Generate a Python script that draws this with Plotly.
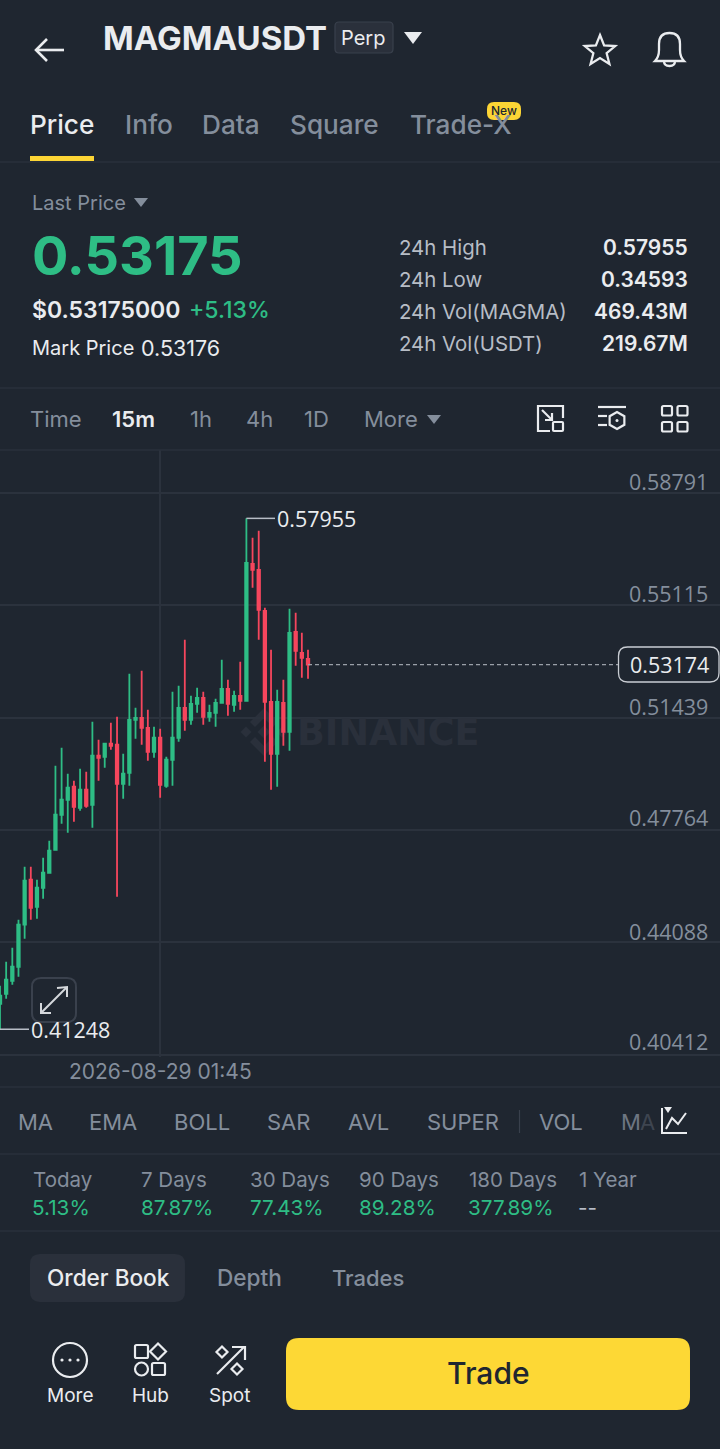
import math
import plotly.graph_objects as go

W, H = 720, 1449
BG = "#1F2630"
GREEN = "#2EBD85"
RED = "#F6465D"
YELLOW = "#FCD535"
GRAY = "#848E9C"
LIGHT = "#EAECEF"
DIV = "#2A303B"
GRID = "#2B323D"

# ---------------- data ----------------
candle_index = list(range(51))
opens = [0.42082,0.42409,0.42834,0.43292,0.44666,0.46137,0.45254,0.45875,0.46366,0.47118,
         0.48262,0.48753,0.49178,0.48491,0.49080,0.48589,0.50192,0.50159,0.50584,0.50552,
         0.49276,0.49636,0.51368,0.51433,0.51106,0.50323,0.50781,0.49210,0.50061,0.50781,
         0.51760,0.51368,0.51891,0.52087,0.51466,0.51597,0.51924,0.52382,0.51858,0.52153,
         0.51989,0.56469,0.56273,0.54932,0.51956,0.50257,0.51924,0.50975,0.54245,0.53559,0.53362]
highs = [0.42670,0.43455,0.43913,0.44829,0.46562,0.46562,0.46137,0.46856,0.47412,0.49865,
         0.50453,0.49603,0.49374,0.49766,0.49668,0.51302,0.50715,0.50617,0.51269,0.51466,
         0.50257,0.52872,0.51760,0.52970,0.51695,0.51139,0.51074,0.50159,0.52283,0.52480,
         0.53984,0.52153,0.52414,0.52283,0.51858,0.52054,0.53330,0.52676,0.52316,0.53264,
         0.57955,0.57319,0.57548,0.55030,0.53657,0.52349,0.52676,0.54997,0.54867,0.54213,0.53657]
lows = [0.41248,0.42245,0.42703,0.42965,0.44207,0.44829,0.44862,0.45515,0.46366,0.47118,
        0.47968,0.47674,0.48033,0.48393,0.48491,0.47837,0.49374,0.49799,0.50388,0.45581,
        0.48785,0.49210,0.50748,0.50552,0.50028,0.50126,0.48818,0.49145,0.49210,0.50650,
        0.51008,0.51204,0.51597,0.51204,0.51302,0.51139,0.51891,0.51499,0.51630,0.51695,
        0.51956,0.55684,0.53984,0.49995,0.49080,0.49178,0.50519,0.50355,0.53134,0.52742,0.52709]
closes = [0.42344,0.42867,0.43292,0.44666,0.46104,0.45221,0.45875,0.46366,0.47085,0.48262,
          0.48753,0.49145,0.48524,0.49080,0.48557,0.50192,0.50126,0.50584,0.50519,0.49276,
          0.49603,0.51368,0.51433,0.51106,0.50323,0.50781,0.49243,0.50061,0.50781,0.51760,
          0.51368,0.51891,0.52087,0.51466,0.51597,0.51924,0.52382,0.51891,0.52153,0.51989,
          0.56502,0.56273,0.54965,0.51956,0.50257,0.51956,0.50975,0.54213,0.53624,0.53395,0.53174]

price_ticks = [0.58791, 0.55115, 0.51439, 0.47764, 0.44088, 0.40412]
price_tick_labels = ["0.58791", "0.55115", "0.51439", "0.47764", "0.44088", "0.40412"]
high_value, high_label, high_index = 0.57955, "0.57955", 40
low_value, low_label, low_index = 0.41248, "0.41248", 0
last_value, last_label = 0.53174, "0.53174"
cursor_index = 26
cursor_label = "2026-08-29 01:45"

symbol = "MAGMAUSDT"
tabs = ["Price", "Info", "Data", "Square", "Trade-X"]
stat_names = ["24h High", "24h Low", "24h Vol(MAGMA)", "24h Vol(USDT)"]
stat_values = ["0.57955", "0.34593", "469.43M", "219.67M"]
intervals = ["Time", "15m", "1h", "4h", "1D", "More"]
indicators = ["MA", "EMA", "BOLL", "SAR", "AVL", "SUPER", "VOL"]
periods = ["Today", "7 Days", "30 Days", "90 Days", "180 Days", "1 Year"]
period_changes = ["5.13%", "87.87%", "77.43%", "89.28%", "377.89%", "--"]
book_tabs = ["Order Book", "Depth", "Trades"]
bottom_items = ["More", "Hub", "Spot"]

# ---------------- page geometry helpers ----------------
FONT = "Inter"
NUM_FONT = "Open Sans"
annots, shapes = [], []
def X(x): return x / W
def Y(y): return 1 - y / H

def T(text, x, y, size, color=LIGHT, anchor="left", weight=400, family=FONT):
    annots.append(dict(text=text, x=X(x), y=Y(y), xref="paper", yref="paper", showarrow=False,
                       xanchor=anchor, yanchor="middle", borderpad=0, borderwidth=0,
                       font=dict(family=family, size=size, color=color, weight=weight)))

def path(cmds, line=LIGHT, width=2.2, fill=None, layer="above"):
    parts = []
    for c in cmds:
        if isinstance(c, str):
            parts.append(c)
        else:
            op, *pts = c
            parts.append(op + " " + " ".join(f"{X(pts[i]):.5f},{Y(pts[i+1]):.5f}" for i in range(0, len(pts), 2)))
    s = dict(type="path", path=" ".join(parts), xref="paper", yref="paper", layer=layer,
             line=dict(color=line, width=width))
    if fill: s["fillcolor"] = fill
    if width == 0: s["line"] = dict(width=0)
    shapes.append(s)

def poly(pts, close=False, **kw):
    cmds = [("M", *pts[0])] + [("L", *p) for p in pts[1:]]
    if close: cmds.append("Z")
    path(cmds, **kw)

def rrect(x0, y0, x1, y1, r, **kw):
    path([("M", x0 + r, y0), ("L", x1 - r, y0), ("Q", x1, y0, x1, y0 + r), ("L", x1, y1 - r),
          ("Q", x1, y1, x1 - r, y1), ("L", x0 + r, y1), ("Q", x0, y1, x0, y1 - r),
          ("L", x0, y0 + r), ("Q", x0, y0, x0 + r, y0), "Z"], **kw)

def circ(cx, cy, r, line=LIGHT, width=2.2, fill=None):
    s = dict(type="circle", xref="paper", yref="paper", x0=X(cx - r), x1=X(cx + r), y0=Y(cy - r), y1=Y(cy + r),
             line=dict(color=line, width=width), layer="above")
    if fill: s["fillcolor"] = fill
    if width == 0: s["line"] = dict(width=0)
    shapes.append(s)

def hline(y, x0=0, x1=W, color=DIV, width=1.5):
    poly([(x0, y), (x1, y)], line=color, width=width)

def tri(x0, x1, y0, y1, color=GRAY):
    poly([(x0, y0), (x1, y0), ((x0 + x1) / 2, y1)], close=True, line=color, width=0, fill=color)

def diamond(cx, cy, r, **kw):
    poly([(cx, cy - r), (cx + r, cy), (cx, cy + r), (cx - r, cy)], close=True, **kw)

# ---------------- chart ----------------
PLOT_TOP, PLOT_BOTTOM = 450, 1057
GRID_TOP_PX, GRID_BOTTOM_PX = 492.8, 1054.8
PX_PER_UNIT = (GRID_BOTTOM_PX - GRID_TOP_PX) / (price_ticks[0] - price_ticks[-1])
y_top = price_ticks[0] + (GRID_TOP_PX - PLOT_TOP) / PX_PER_UNIT
y_bottom = price_ticks[0] - (PLOT_BOTTOM - GRID_TOP_PX) / PX_PER_UNIT
BAR_STEP = 6.16

fig = go.Figure(go.Candlestick(
    x=candle_index, open=opens, high=highs, low=lows, close=closes,
    whiskerwidth=0, hoverinfo="skip",
    increasing=dict(line=dict(color=GREEN, width=1.8), fillcolor=GREEN),
    decreasing=dict(line=dict(color=RED, width=1.8), fillcolor=RED),
))

for v, lab, dy in zip(price_ticks, price_tick_labels, [11, 12, 11, 12, 11, 13]):
    annots.append(dict(text=lab, x=X(709), xref="paper", y=v, yref="y", yshift=dy, showarrow=False,
                       xanchor="right", yanchor="middle", borderpad=0,
                       font=dict(family=NUM_FONT, size=21.5, color=GRAY)))

# high, low markers
for idx, val, lab, x1 in [(high_index, high_value, high_label, 275), (low_index, low_value, low_label, 29)]:
    shapes.append(dict(type="line", xref="x", yref="y", x0=idx, x1=x1 / BAR_STEP, y0=val, y1=val,
                       line=dict(color="#B7BDC6", width=1.5), layer="above"))
    annots.append(dict(text=lab, x=X(x1 + 1), xref="paper", y=val, yref="y", showarrow=False,
                       xanchor="left", yanchor="middle", borderpad=0,
                       font=dict(family=NUM_FONT, size=21.5, color=LIGHT)))

# last-price dashed line
shapes.append(dict(type="line", xref="x", yref="y", x0=50, x1=618 / BAR_STEP, y0=last_value, y1=last_value,
                   line=dict(color="#9AA0A8", width=1.3, dash="4px,3px"), layer="above"))
rrect(618.5, 647, 719, 682, 9, line="#C9CDD3", width=1.3, fill=BG)
annots.append(dict(text=last_label, x=X(669), xref="paper", y=last_value, yref="y", showarrow=False,
                   xanchor="center", yanchor="middle", borderpad=0,
                   font=dict(family=NUM_FONT, size=21.5, color=LIGHT)))

# watermark
WM = "#2A303B"
T("BINANCE", 297, 732, 36.5, WM, weight=700, family="DejaVu Sans")
W_KW = dict(line=WM, width=0, fill=WM, layer="below")
diamond(246, 732, 5.5, **W_KW)
diamond(282, 732, 5.5, **W_KW)
diamond(264, 732, 6.5, **W_KW)
poly([(264, 708), (278, 722), (273, 727), (264, 718), (255, 727), (250, 722)], close=True, **W_KW)
poly([(264, 756), (278, 742), (273, 737), (264, 746), (255, 737), (250, 742)], close=True, **W_KW)

# expand button
rrect(32, 978, 76, 1022, 9, line="#3A414D", width=2)
poly([(42, 1012), (66, 988)], line="#D5D8DC", width=2)
poly([(57, 988), (67, 987), (67, 997)], line="#D5D8DC", width=2)
poly([(41, 1003), (41, 1013), (51, 1013)], line="#D5D8DC", width=2)

T(cursor_label, 69, 1071, 21, GRAY)

# ---------------- header ----------------
poly([(36, 50), (64, 50)], line=LIGHT, width=2.6)
poly([(47, 39), (36, 50), (47, 61)], line=LIGHT, width=2.6)
T(symbol, 103, 38, 33, LIGHT, weight=700)
rrect(335, 22, 393, 53, 4, line="#39404C", width=1.2, fill="#2A303B")
T("Perp", 341, 38, 20, LIGHT)
tri(404, 422, 32, 44, LIGHT)

star = []
for k in range(10):
    r = 16 if k % 2 == 0 else 7
    a = -math.pi / 2 + k * math.pi / 5
    star.append((600 + r * math.cos(a), 51 + r * math.sin(a)))
poly(star, close=True, line=LIGHT, width=2.3)

path([("M", 655, 61), ("Q", 659, 57, 659, 50), ("L", 659, 44), ("Q", 659, 33, 669.5, 33), ("Q", 680, 33, 680, 44),
      ("L", 680, 50), ("Q", 680, 57, 684, 61), "Z"], line=LIGHT, width=2.3)
path([("M", 664, 61), ("Q", 664, 66, 669.5, 66), ("Q", 675, 66, 675, 61)], line=LIGHT, width=2.3)

# tabs
for lab, x, col, w in zip(tabs, [30, 125, 202, 290, 410], [LIGHT, GRAY, GRAY, GRAY, GRAY], [500, 500, 500, 500, 500]):
    T(lab, x, 124.5, 26.2, col, weight=w)
poly([(30, 158.5), (94, 158.5)], line=YELLOW, width=5)
hline(162)
rrect(487, 102, 521, 120, 7, line=YELLOW, width=0, fill=YELLOW)
T("New", 504, 111, 12, "#202630", anchor="center", weight=500)

# price block
T("Last Price", 32, 203, 20, GRAY)
tri(134, 148, 198, 207)
T("0.53175", 32, 255, 54, GREEN, weight=700)
T("$0.53175000", 32, 310, 23, LIGHT, weight=600)
T("+5.13%", 188.5, 310, 23, GREEN, weight=500)
T("Mark Price", 32, 348, 20, LIGHT)
T("0.53176", 141, 348, 21.5, LIGHT)
for n, v, y in zip(stat_names, stat_values, [247.5, 279.5, 311.5, 343.5]):
    T(n, 399, y, 20.4, "#B7BDC6")
    T(v, 688, y, 21, LIGHT, anchor="right", weight=600)
hline(388)

# interval row
for lab, x, col, w in zip(intervals, [30, 112, 190, 246, 304, 364],
                          [GRAY, LIGHT, GRAY, GRAY, GRAY, GRAY], [400, 600, 400, 400, 400, 400]):
    T(lab, x, 419, 22, col, weight=w)
tri(427, 441, 415, 424)
poly([(563, 418), (563, 406), (538, 406), (538, 431), (550, 431)], line=LIGHT, width=2.2)
rrect(553, 422, 563, 431, 1, line=LIGHT, width=2.2)
poly([(542, 410), (552, 420)], line=LIGHT, width=2.2)
poly([(552, 413), (552, 420), (545, 420)], line=LIGHT, width=2.2)
poly([(598, 407), (626, 407)], line=LIGHT, width=2.2)
poly([(598, 416), (607, 416)], line=LIGHT, width=2.2)
poly([(598, 425), (607, 425)], line=LIGHT, width=2.2)
hexa = [(617 + 8.5 * math.sin(k * math.pi / 3), 420.5 + 8.5 * math.cos(k * math.pi / 3)) for k in range(6)]
poly(hexa, close=True, line=LIGHT, width=2.2)
circ(617, 420.5, 1.5, width=0, fill=LIGHT)
for x0, y0 in [(662, 406), (677.5, 406), (662, 422), (677.5, 422)]:
    rrect(x0, y0, x0 + 10, y0 + 9.5, 1.5, line=LIGHT, width=2.2)
hline(450)

# indicators
hline(1087)
for lab, x in zip(indicators, [18, 89, 174, 267, 348, 427, 539]):
    T(lab, x, 1122, 22, GRAY)
T("M", 621, 1122, 22, "#6E7682")
T("A", 640, 1122, 22, "#3E4550")
poly([(519.5, 1110), (519.5, 1133)], line="#39404C", width=1.2)
poly([(662, 1108), (662, 1133), (687, 1133)], line=LIGHT, width=2)
poly([(666, 1129), (672, 1118), (678, 1124), (686, 1113)], line=LIGHT, width=2)
tri(664, 672, 1107, 1113, LIGHT)
hline(1154)

# periods
xs_p = [33, 141, 250, 359, 469, 579]
for lab, x in zip(periods, xs_p):
    T(lab, x, 1179.5, 20.5, GRAY)
for lab, x in zip(period_changes, [32, 141, 250, 359, 468, 578]):
    T(lab, x, 1207.5, 20.7, "#B7BDC6" if lab == "--" else GREEN)
hline(1231)

# book tabs
rrect(30, 1254, 185, 1302, 10, line="#2A303B", width=0, fill="#2A303B")
T(book_tabs[0], 47, 1277.5, 22.6, LIGHT, weight=500)
T(book_tabs[1], 217, 1277.5, 22.6, GRAY, weight=500)
T(book_tabs[2], 332, 1278, 22, GRAY, weight=500)

# bottom bar
circ(70, 1360, 17)
for x in (62, 70, 78):
    circ(x, 1360, 1.6, width=0, fill=LIGHT)
rrect(135, 1345, 148, 1358, 1.5)
diamond(158, 1351.5, 8)
circ(141.5, 1369, 6.5)
rrect(152, 1363, 165, 1375, 1.5)
poly([(217, 1374), (244, 1347)])
poly([(232, 1347), (245, 1347), (245, 1360)])
diamond(222, 1352, 5.5)
diamond(237, 1369, 5.5)
for lab, x in zip(bottom_items, [70, 150, 230]):
    T(lab, x, 1395, 19, LIGHT, anchor="center")
rrect(286, 1338, 690, 1410, 13, line="#FDD835", width=0, fill="#FDD835")
T("Trade", 488, 1373, 30, "#202630", anchor="center", weight=500)

fig.update_layout(
    width=W, height=H, margin=dict(l=0, r=0, t=0, b=0), autosize=False,
    paper_bgcolor=BG, plot_bgcolor=BG, showlegend=False, hovermode=False,
    boxgap=0.42,
    xaxis=dict(range=[0, W / BAR_STEP], rangeslider=dict(visible=False), showticklabels=False,
               tickmode="array", tickvals=[cursor_index], ticks="", showgrid=True, gridcolor=GRID, gridwidth=1.5,
               zeroline=False, showline=False, fixedrange=True),
    yaxis=dict(range=[y_bottom, y_top], domain=[1 - PLOT_BOTTOM / H, 1 - PLOT_TOP / H],
               tickmode="array", tickvals=price_ticks, showticklabels=False, ticks="",
               showgrid=True, gridcolor=GRID, gridwidth=1.5, zeroline=False, showline=False, fixedrange=True),
    annotations=annots, shapes=shapes,
)

fig.write_html("out.html", config=dict(displayModeBar=False),
               post_script="document.body.style.margin='0';document.body.style.background='%s';" % BG)
